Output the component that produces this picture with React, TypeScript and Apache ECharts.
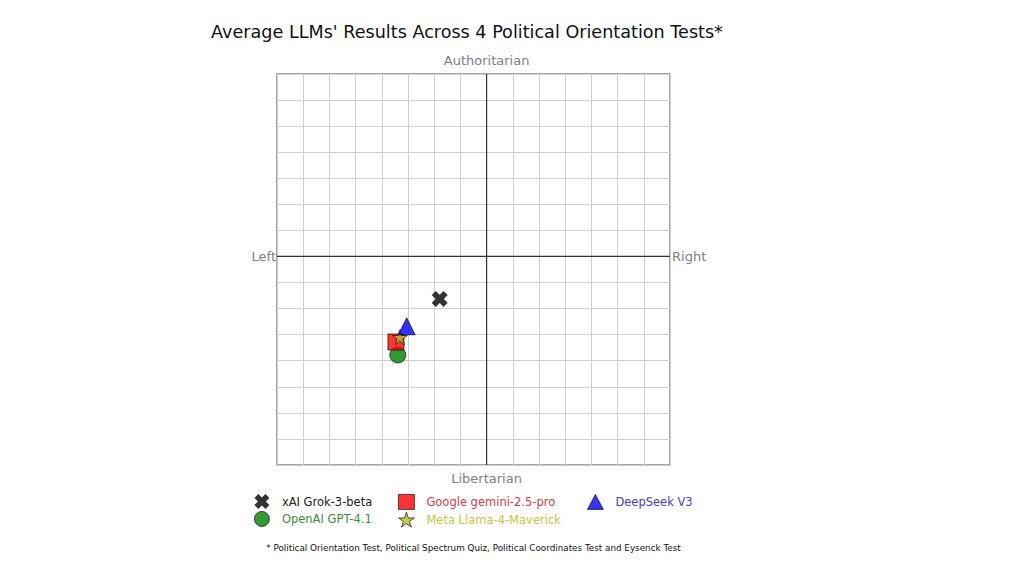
import React, { useEffect, useRef } from "react";
import * as echarts from "echarts";

const title = "Average LLMs' Results Across 4 Political Orientation Tests*";
const footnote = "* Political Orientation Test, Political Spectrum Quiz, Political Coordinates Test and Eysenck Test";
const axisNames = { left: "Left", right: "Right", top: "Authoritarian", bottom: "Libertarian" };

const models = ["xAI Grok-3-beta", "OpenAI GPT-4.1", "Google gemini-2.5-pro", "Meta Llama-4-Maverick", "DeepSeek V3"];
const xValues = [-1.79, -3.39, -3.46, -3.31, -3.05];
const yValues = [-1.63, -3.78, -3.28, -3.1, -2.68];
const markerColors = ["#000000", "#008000", "#ff0000", "#bcbd22", "#0000ff"];
const textColors = ["#222222", "#3a8f3a", "#d43a48", "#c8c640", "#4040c8"];

const X_PATH = "path://M2.6,0 L5,2.4 L7.4,0 L10,2.6 L7.6,5 L10,7.4 L7.4,10 L5,7.6 L2.6,10 L0,7.4 L2.4,5 L0,2.6 Z";
const STAR_PATH =
  "path://M50,0 L61.8,35.4 L99,35.4 L69,57.3 L80.4,92.7 L50,70.8 L19.6,92.7 L31,57.3 L1,35.4 L38.2,35.4 Z";
const symbols = [X_PATH, "circle", "rect", STAR_PATH, "triangle"];
const symbolSizes = [16, 16, 16, 15, 17];

const xMin = -8, xMax = 7, yMin = -8, yMax = 7;

export default function App() {
  const ref = useRef<HTMLDivElement>(null);
  useEffect(() => {
    if (!ref.current) return;
    const chart = echarts.init(ref.current, undefined, { renderer: "svg" });
    const font = "DejaVu Sans";
    const gridLeft = 277, gridTop = 74, gridW = 393, gridH = 391;
    const cx = gridLeft + ((0 - xMin) / (xMax - xMin)) * gridW;
    const cy = gridTop + ((yMax - 0) / (yMax - yMin)) * gridH;

    const series = models.map((m, i) => ({
      name: m,
      type: "scatter",
      data: [[xValues[i], yValues[i]]],
      symbol: symbols[i],
      symbolSize: symbolSizes[i],
      itemStyle: { color: markerColors[i], opacity: 0.8, borderColor: "#000", borderWidth: i === 0 ? 0 : 0.8 },
      z: 3 + i,
    }));

    const legendItem = (i: number) => ({
      name: models[i],
      textStyle: { color: textColors[i] },
      itemStyle: { color: markerColors[i], opacity: 0.8, borderColor: "#000", borderWidth: i === 0 ? 0 : 0.8 },
    });
    const legendBase = {
      orient: "vertical",
      itemWidth: 16,
      itemHeight: 15,
      itemGap: 2,
      selectedMode: false,
      textStyle: { fontFamily: font, fontSize: 11.5, padding: [0, 0, 0, 7] },
      padding: 0,
    };

    chart.setOption({
      animation: false,
      backgroundColor: "#ffffff",
      title: {
        text: title,
        left: 462,
        textAlign: "center",
        top: 18,
        textStyle: { fontFamily: font, fontSize: 17.6, fontWeight: "normal", color: "#111" },
      },
      grid: {
        left: gridLeft,
        top: gridTop,
        width: gridW,
        height: gridH,
        show: true,
        borderColor: "#888888",
        borderWidth: 1.5,
        backgroundColor: "transparent",
      },
      xAxis: {
        type: "value",
        min: xMin,
        max: xMax,
        interval: 1,
        axisLine: { show: false },
        axisTick: { show: false },
        axisLabel: { show: false },
        splitLine: { show: true, lineStyle: { color: "#d0d0d0", width: 1 } },
      },
      yAxis: {
        type: "value",
        min: yMin,
        max: yMax,
        interval: 1,
        axisLine: { show: false },
        axisTick: { show: false },
        axisLabel: { show: false },
        splitLine: { show: true, lineStyle: { color: "#d0d0d0", width: 1 } },
      },
      legend: [
        { ...legendBase, left: 254, top: 494, data: [legendItem(0), legendItem(1)] },
        { ...legendBase, left: 398, top: 494, data: [legendItem(2), legendItem(3)] },
        { ...legendBase, left: 587, top: 494, data: [legendItem(4)] },
      ],
      graphic: [
        { type: "line", shape: { x1: cx, y1: gridTop, x2: cx, y2: gridTop + gridH }, style: { stroke: "#333", lineWidth: 1.2 }, z: 2 },
        { type: "line", shape: { x1: gridLeft, y1: cy, x2: gridLeft + gridW, y2: cy }, style: { stroke: "#333", lineWidth: 1.2 }, z: 2 },
        { type: "text", x: cx, y: 60, style: { text: axisNames.top, fill: "#808080", font: `13px ${font}`, align: "center", verticalAlign: "middle" } },
        { type: "text", x: cx, y: 478, style: { text: axisNames.bottom, fill: "#808080", font: `13px ${font}`, align: "center", verticalAlign: "middle" } },
        { type: "text", x: gridLeft - 1, y: cy, style: { text: axisNames.left, fill: "#808080", font: `13px ${font}`, align: "right", verticalAlign: "middle" } },
        { type: "text", x: gridLeft + gridW + 2, y: cy, style: { text: axisNames.right, fill: "#808080", font: `13px ${font}`, align: "left", verticalAlign: "middle" } },
        { type: "text", x: 473.5, y: 548, style: { text: footnote, fill: "#111", font: `8.8px ${font}`, align: "center", verticalAlign: "middle" } },
      ],
      series,
    });
    return () => chart.dispose();
  }, []);
  return <div ref={ref} style={{ width: 1024, height: 563, margin: -8 }} />;
}
